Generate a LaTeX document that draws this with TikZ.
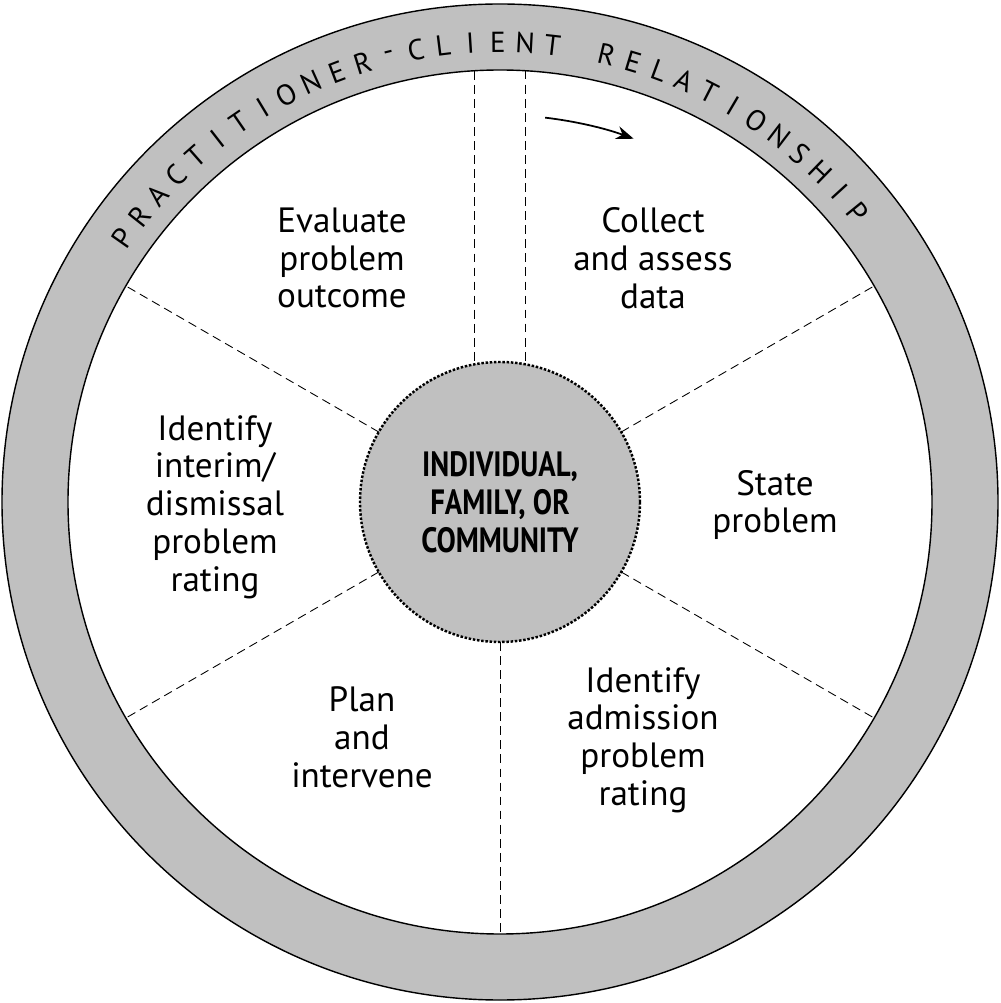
\documentclass[tikz,border=0pt]{standalone}
\usepackage{fontspec}
\setmainfont{PT Sans}
\newfontfamily\condbold[FakeStretch=0.82]{PT Sans Bold}
\usetikzlibrary{arrows.meta}
\definecolor{ring}{HTML}{C0C0C0}
\begin{document}
\begin{tikzpicture}[x=0.02cm,y=0.02cm,
  lbl/.style={align=center,font=\fontsize{20}{21.5}\selectfont},
  dl/.style={dashed,line width=0.5pt,dash pattern=on 5pt off 3pt}]
\useasboundingbox (-500,-501) rectangle (500,502);
\fill[ring,draw=black,line width=0.8pt] (0,0) circle (498);
\fill[white,draw=black,line width=0.8pt] (0,0) circle (432);
\foreach \c [count=\i] in {P,R,A,C,T,I,T,I,O,N,E,R,-,C,L,I,E,N,T,{},R,E,L,A,T,I,O,N,S,H,I,P}{
  \pgfmathsetmacro\ang{145-(\i-1)*3.42}
  \node[rotate=\ang-90,font=\fontsize{16.5}{16.5}\selectfont,inner sep=0] at (\ang:460) {\c};
}
\draw[dl] (-26,431.2) -- (-26,137.6);
\draw[dl] (25,431.3) -- (25,137.7);
\draw[dl] (0,-140) -- (0,-432);
\foreach \a in {30,-30,150,210} \draw[dl] (\a:140) -- (\a:432);
\node[circle,fill=ring,draw=black,densely dotted,line width=1.4pt,minimum size=280*0.02cm,inner sep=0] (c) at (0,0) {};
\node[align=center,font=\fontsize{20}{21.5}\condbold] at (0,0) {INDIVIDUAL,\\FAMILY, OR\\COMMUNITY};
\draw[-{Stealth[length=10pt]},line width=1pt] (83.3:387) arc[start angle=83.3,end angle=69.9,radius=390];
\node[lbl] (e) at (-158,244) {Evaluate\\problem\\outcome};
\node[lbl] (co) at (153,244) {Collect\\and assess\\data};
\node[lbl] (ii) at (-285,-5) {Identify\\interim/\\dismissal\\problem\\rating};
\node[lbl] (sp) at (275,-3) {State\\problem};
\node[lbl] (pl) at (-138,-235) {Plan\\and\\intervene};
\node[lbl] (ia) at (143,-238) {Identify\\admission\\problem\\rating};
\end{tikzpicture}
\end{document}
